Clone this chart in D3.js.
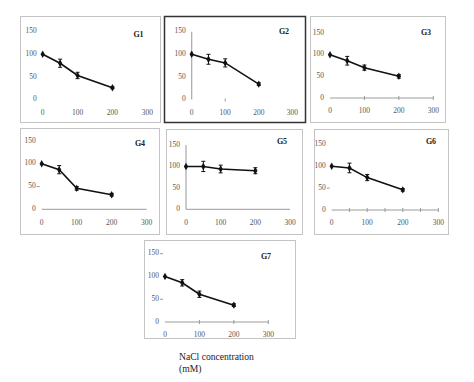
<!DOCTYPE html>
<html><head><meta charset="utf-8">
<script src="https://cdn.jsdelivr.net/npm/d3@7"></script>
<style>body{margin:0;background:#fff}svg{display:block}</style>
</head><body>
<svg id="c" width="474" height="382"></svg>
<script>
// ---- data ----
const concentrations = [0, 50, 100, 200];
const xTicks = [0, 100, 200, 300];
const yTicks = [0, 50, 100, 150];
const groupNames = ["G1", "G2", "G3", "G4", "G5", "G6", "G7"];
const g1Values = [100, 80, 53, 26];
const g1Errors = [0, 9, 7, 2];
const g2Values = [100, 89, 81, 34];
const g2Errors = [0, 11, 9, 3];
const g3Values = [100, 86, 70, 50];
const g3Errors = [0, 10, 6, 4];
const g4Values = [100, 87, 46, 32];
const g4Errors = [0, 9, 4, 3];
const g5Values = [100, 100, 94, 90];
const g5Errors = [0, 12, 9, 7];
const g6Values = [100, 96, 74, 46];
const g6Errors = [0, 11, 7, 3];
const g7Values = [100, 86, 61, 37];
const g7Errors = [0, 7, 7, 3];
const xAxisTitle = "NaCl concentration";
const xAxisUnit = "(mM)";

const seriesValues = [g1Values, g2Values, g3Values, g4Values, g5Values, g6Values, g7Values];
const seriesErrors = [g1Errors, g2Errors, g3Errors, g4Errors, g5Errors, g6Errors, g7Errors];

// ---- layout (positions / styles) ----
const layout = [
  {box:[20,16,140,106], xr:[42.7,147.3], yr:[99.5,31.5], title:[138.5,35], border:"#c4c4c4", bw:1, vAxis:false, hAxis:false, hTickStep:0, yTickMarks:[]},
  {box:[164,16,141,106], xr:[191.7,292.3], yr:[99.5,31.7], title:[284,32], border:"#333", bw:1.5, vAxis:true, hAxis:false, hTickStep:0, yTickMarks:[], lone:[100]},
  {box:[310,16,135,106], xr:[330,433.3], yr:[98,33], title:[426,33], border:"#c4c4c4", bw:1, vAxis:false, hAxis:true, hTickStep:100, yTickMarks:[]},
  {box:[20,128,139,106], xr:[41.7,146.7], yr:[209.3,141], title:[140,144], border:"#c4c4c4", bw:1, vAxis:false, hAxis:true, hTickStep:0, yTickMarks:[50]},
  {box:[166,129,136,105], xr:[186,290], yr:[209.3,145], title:[282,142], border:"#c4c4c4", bw:1, vAxis:true, hAxis:true, hTickStep:0, yTickMarks:[]},
  {box:[314,129,134,105], xr:[331.7,438.3], yr:[210,144.3], title:[431,142], border:"#c4c4c4", bw:1, vAxis:false, hAxis:true, hTickStep:50, yTickMarks:[50]},
  {box:[144,240,151,98], xr:[165,268.3], yr:[322,253.7], title:[266,257], border:"#c4c4c4", bw:1, vAxis:false, hAxis:true, hTickStep:100, yTickMarks:[50,150]}
];

const svg = d3.select("#c");
const font = "Liberation Serif, Times New Roman, serif";

groupNames.forEach((name, i) => {
  const L = layout[i];
  const vals = seriesValues[i], errs = seriesErrors[i];
  const g = svg.append("g");
  g.append("rect").attr("x", L.box[0]+0.5).attr("y", L.box[1]+0.5)
    .attr("width", L.box[2]).attr("height", L.box[3])
    .attr("fill", "#fff").attr("stroke", L.border).attr("stroke-width", L.bw);

  const x = d3.scaleLinear().domain([0, 300]).range(L.xr);
  const y = d3.scaleLinear().domain([0, 150]).range(L.yr);

  if (L.hAxis) {
    g.append("line").attr("x1", x(0)).attr("x2", x(300)).attr("y1", y(0)).attr("y2", y(0))
      .attr("stroke", "#9a9a9a").attr("stroke-width", 1);
    if (L.hTickStep) {
      d3.range(L.hTickStep, 301, L.hTickStep).forEach(t => {
        g.append("line").attr("x1", x(t)).attr("x2", x(t)).attr("y1", y(0)-2).attr("y2", y(0)+2)
          .attr("stroke", "#9a9a9a").attr("stroke-width", 1);
      });
    }
  }
  if (L.vAxis) {
    g.append("line").attr("x1", x(0)).attr("x2", x(0)).attr("y1", y(150)).attr("y2", y(0))
      .attr("stroke", "#a8a8a8").attr("stroke-width", 1.2);
  }
  if (L.lone) {
    L.lone.forEach(t => g.append("line").attr("x1", x(t)).attr("x2", x(t)).attr("y1", y(0)-1).attr("y2", y(0)+2)
      .attr("stroke", "#999").attr("stroke-width", 1));
  }
  L.yTickMarks.forEach(t => {
    g.append("line").attr("x1", x(0)-5).attr("x2", x(0)-2).attr("y1", y(t)).attr("y2", y(t))
      .attr("stroke", "#999").attr("stroke-width", 1);
  });

  g.selectAll(".xl").data(xTicks).join("text")
    .attr("x", d => x(d)).attr("y", y(0) + 13.5)
    .attr("text-anchor", "middle").attr("dominant-baseline", "middle")
    .attr("font-family", font).attr("font-size", 7.5).attr("fill", "#555")
    .text(d => d);
  g.selectAll(".yl").data(yTicks).join("text")
    .attr("x", x(0) - 6).attr("y", d => y(d))
    .attr("text-anchor", "end").attr("dominant-baseline", "middle")
    .attr("font-family", font).attr("font-size", 7.5).attr("fill", "#555")
    .text(d => d);

  g.append("text").attr("x", L.title[0]).attr("y", L.title[1])
    .attr("text-anchor", "middle").attr("dominant-baseline", "middle")
    .attr("font-family", font).attr("font-size", 8).attr("font-weight", "bold").attr("fill", "#222")
    .text(name);

  const pts = concentrations.map((c, k) => ({c, v: vals[k], e: errs[k]}));
  g.append("path").datum(pts)
    .attr("d", d3.line().x(d => x(d.c)).y(d => y(d.v)))
    .attr("fill", "none").attr("stroke", "#111").attr("stroke-width", 1.6);
  pts.filter(d => d.e > 0).forEach(d => {
    const cx = x(d.c);
    g.append("line").attr("x1", cx).attr("x2", cx).attr("y1", y(d.v + d.e)).attr("y2", y(d.v - d.e))
      .attr("stroke", "#111").attr("stroke-width", 1);
    [d.v + d.e, d.v - d.e].forEach(v => g.append("line").attr("x1", cx - 2).attr("x2", cx + 2)
      .attr("y1", y(v)).attr("y2", y(v)).attr("stroke", "#111").attr("stroke-width", 1));
  });
  g.selectAll(".m").data(pts).join("path")
    .attr("transform", d => `translate(${x(d.c)},${y(d.v)})`)
    .attr("d", d3.symbol(d3.symbolDiamond, 16))
    .attr("fill", "#111");
});

svg.append("text").attr("x", 179).attr("y", 358).attr("font-family", font).attr("font-size", 9.6)
  .attr("fill", "#222").attr("dominant-baseline", "middle").text(xAxisTitle);
svg.append("text").attr("x", 179).attr("y", 370).attr("font-family", font).attr("font-size", 9.6)
  .attr("fill", "#222").attr("dominant-baseline", "middle").text(xAxisUnit);
</script>
</body></html>
